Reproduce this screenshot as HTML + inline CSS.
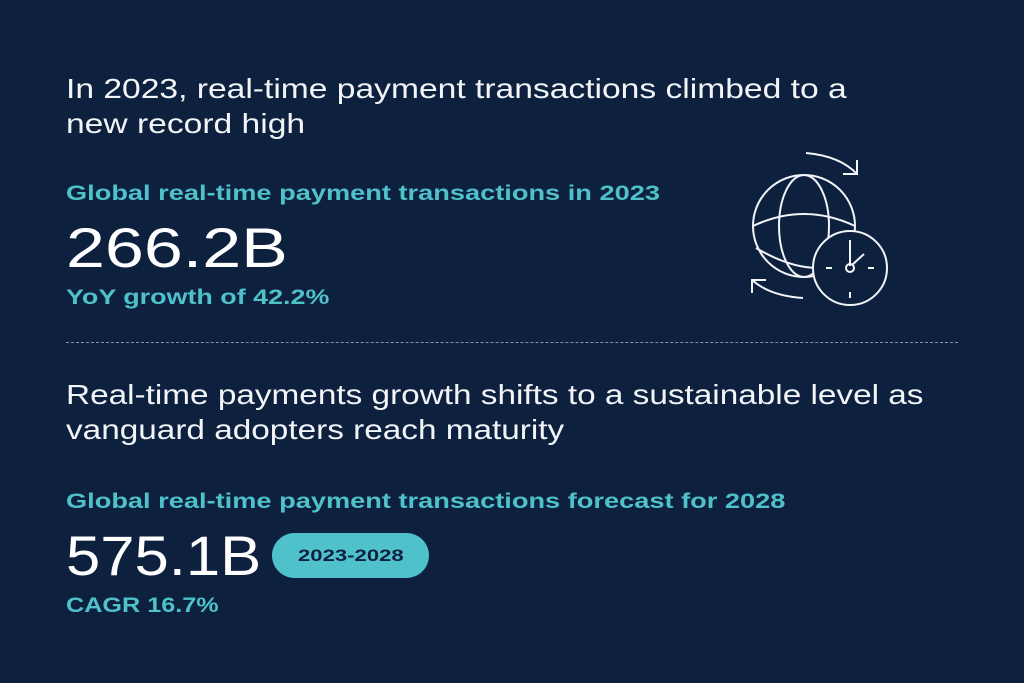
<!DOCTYPE html>
<html><head><meta charset="utf-8"><style>
html,body{margin:0;padding:0}
body{width:1024px;height:683px;background:#0d213f;position:relative;overflow:hidden;font-family:"Liberation Sans",sans-serif;color:#fff}
.a{position:absolute;white-space:nowrap;transform-origin:0 0}
.h{font-size:28px;line-height:35px;color:#f2f4f7}
.t{font-size:21px;font-weight:bold;color:#4fc1cb}
.big{font-size:56px;line-height:56px}
</style></head><body>
<div class="a h" style="left:66px;top:71px;transform:scaleX(1.2)">In 2023, real-time payment transactions climbed to a</div>
<div class="a h" style="left:66px;top:106px;transform:scaleX(1.2)">new record high</div>
<div class="a t" style="left:66px;top:182px;transform:scaleX(1.295)">Global real-time payment transactions in 2023</div>
<div class="a big" style="left:66px;top:220px;transform:scaleX(1.25)">266.2B</div>
<div class="a t" style="left:66px;top:286px;transform:scaleX(1.28)">YoY growth of 42.2%</div>
<div class="a" style="left:66px;top:342px;width:892px;border-top:1.5px dashed #8894a6"></div>
<div class="a h" style="left:66px;top:377px;transform:scaleX(1.19)">Real-time payments growth shifts to a sustainable level as</div>
<div class="a h" style="left:66px;top:412px;transform:scaleX(1.19)">vanguard adopters reach maturity</div>
<div class="a t" style="left:66px;top:490px;transform:scaleX(1.295)">Global real-time payment transactions forecast for 2028</div>
<div class="a big" style="left:66px;top:528px;transform:scaleX(1.1)">575.1B</div>
<div class="a" style="left:272px;top:533px;width:157px;height:45px;border-radius:23px;background:#4fc1cb"></div>
<div class="a" style="left:298px;top:533px;color:#0d213f;font-weight:bold;font-size:17px;line-height:45px;transform:scaleX(1.3)">2023-2028</div>
<div class="a t" style="left:66px;top:594px;transform:scaleX(1.2)">CAGR 16.7%</div>
<svg class="a" style="left:0;top:0" width="1024" height="683" fill="none" stroke="#f2f4f7" stroke-width="2">
<circle cx="804" cy="226" r="51"/>
<ellipse cx="804" cy="226" rx="25" ry="51"/>
<path d="M753 226 Q804 202 855 226"/>
<path d="M756 248 Q790 268 818 268"/>
<circle cx="850" cy="268" r="37" fill="#0d213f"/>
<path d="M850 240v26M852 265l12-11M826 268h6M868 268h6M850 292v6"/>
<circle cx="850" cy="268" r="4"/>
<path d="M806 153 Q840 156 857 174"/><path d="M857 160v14h-14"/>
<path d="M803 298 Q770 296 752 280"/><path d="M752 293v-13h14"/>
</svg>
</body></html>
